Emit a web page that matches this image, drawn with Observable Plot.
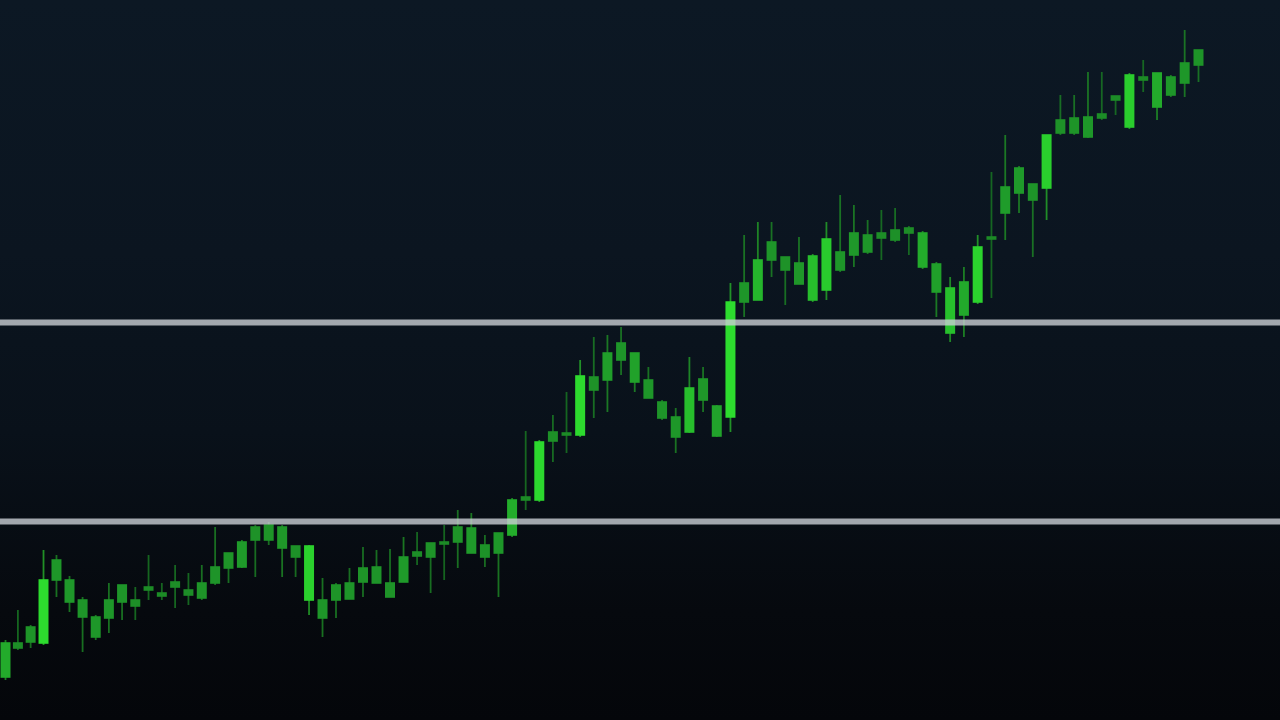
<!DOCTYPE html>
<html>
<head>
<meta charset="utf-8">
<script src="https://cdn.jsdelivr.net/npm/d3@7"></script>
<script src="https://cdn.jsdelivr.net/npm/@observablehq/plot@0.6"></script>
<style>
  html, body { margin: 0; padding: 0; width: 1280px; height: 720px; overflow: hidden; }
  body { background: linear-gradient(180deg, #0c1824 0%, #0b1520 35%, #09111a 60%, #06090e 85%, #04060a 100%); }
  #chart svg { display: block; }
</style>
</head>
<body>
<div id="chart"></div>
<script>
// Candle values (price units), one entry per session, left to right
const open  = [43,72,78,77,140,118,103,83,102,118,114,130,124,133,125,122,137,152,153,180,180,172,163,120,102,120,121,138,137,123,138,164,163,176,178,167,163,167,185,220,220,279,285,285,330,340,360,338,322,302,283,288,320,284,303,418,420,460,450,436,420,430,450,465,468,482,480,487,453,428,387,405,418,481,507,527,520,532,587,587,583,602,620,593,640,613,625,637,655];
const close = [77,77,93,140,160,140,120,103,120,135,120,133,127,138,130,137,153,167,178,193,195,193,174,174,120,135,137,152,153,137,163,168,177,178,193,192,175,187,220,223,278,288,287,344,343,367,377,367,340,318,303,332,341,314,418,437,460,478,463,457,464,481,468,487,485,487,490,492,487,456,432,438,473,483,533,552,536,585,600,602,603,606,624,645,643,647,643,657,670];
const high  = [80,110,95,170,165,144,123,105,137,135,133,165,137,155,147,155,193,167,180,195,198,195,174,175,142,137,152,173,170,171,183,188,177,195,210,207,185,187,222,289,280,305,328,360,383,385,393,367,353,320,312,363,353,315,437,485,498,498,463,483,466,498,525,515,500,510,512,494,489,458,443,453,485,548,585,554,536,585,625,625,648,648,624,647,660,647,645,690,670];
const low   = [40,70,72,75,123,108,68,80,87,100,100,120,120,112,115,120,135,137,152,143,175,143,143,105,83,102,121,123,137,123,138,155,127,140,152,167,153,123,183,210,218,258,267,283,302,308,345,328,322,300,267,287,308,283,288,403,420,443,415,436,418,420,448,453,466,460,478,465,451,403,378,383,416,422,480,507,463,500,585,585,582,600,605,591,628,600,623,623,638];
// Horizontal support / resistance levels
const levels = [199, 398];

const candles = open.map((o, i) => ({
  i, open: o, close: close[i], high: high[i], low: low[i],
  body: Math.abs(close[i] - o)
}));

const color = d3.scaleLinear().domain([0, 25, 60]).range(["#1c8a26", "#1f9a2a", "#2ddc2e"]).clamp(true);
const wickColor = d3.scaleLinear().domain([0, 60]).range(["#187222", "#26a82a"]).clamp(true);

const chart = Plot.plot({
  width: 1280,
  height: 720,
  margin: 0,
  style: { background: "transparent", overflow: "visible", filter: "blur(0.45px)" },
  x: { type: "pow", exponent: 1.02, domain: [0, candles.length - 1], range: [5, 1198], axis: null },
  y: { domain: [0, 720], range: [720, 0], axis: null },
  marks: [
    Plot.ruleX(candles, { x: "i", y1: "low", y2: "high", stroke: d => wickColor(d.body), strokeWidth: 1.8, strokeOpacity: 0.85 }),
    Plot.ruleX(candles, { x: "i", y1: d => Math.min(d.open, d.close) - 0.8, y2: d => Math.max(d.open, d.close) + 0.8, stroke: d => color(d.body), strokeWidth: 10 }),
    Plot.ruleY(levels, { y: d => d, stroke: "#c9ced3", strokeWidth: 6, strokeOpacity: 0.8 })
  ]
});
document.getElementById("chart").appendChild(chart);
</script>
</body>
</html>
